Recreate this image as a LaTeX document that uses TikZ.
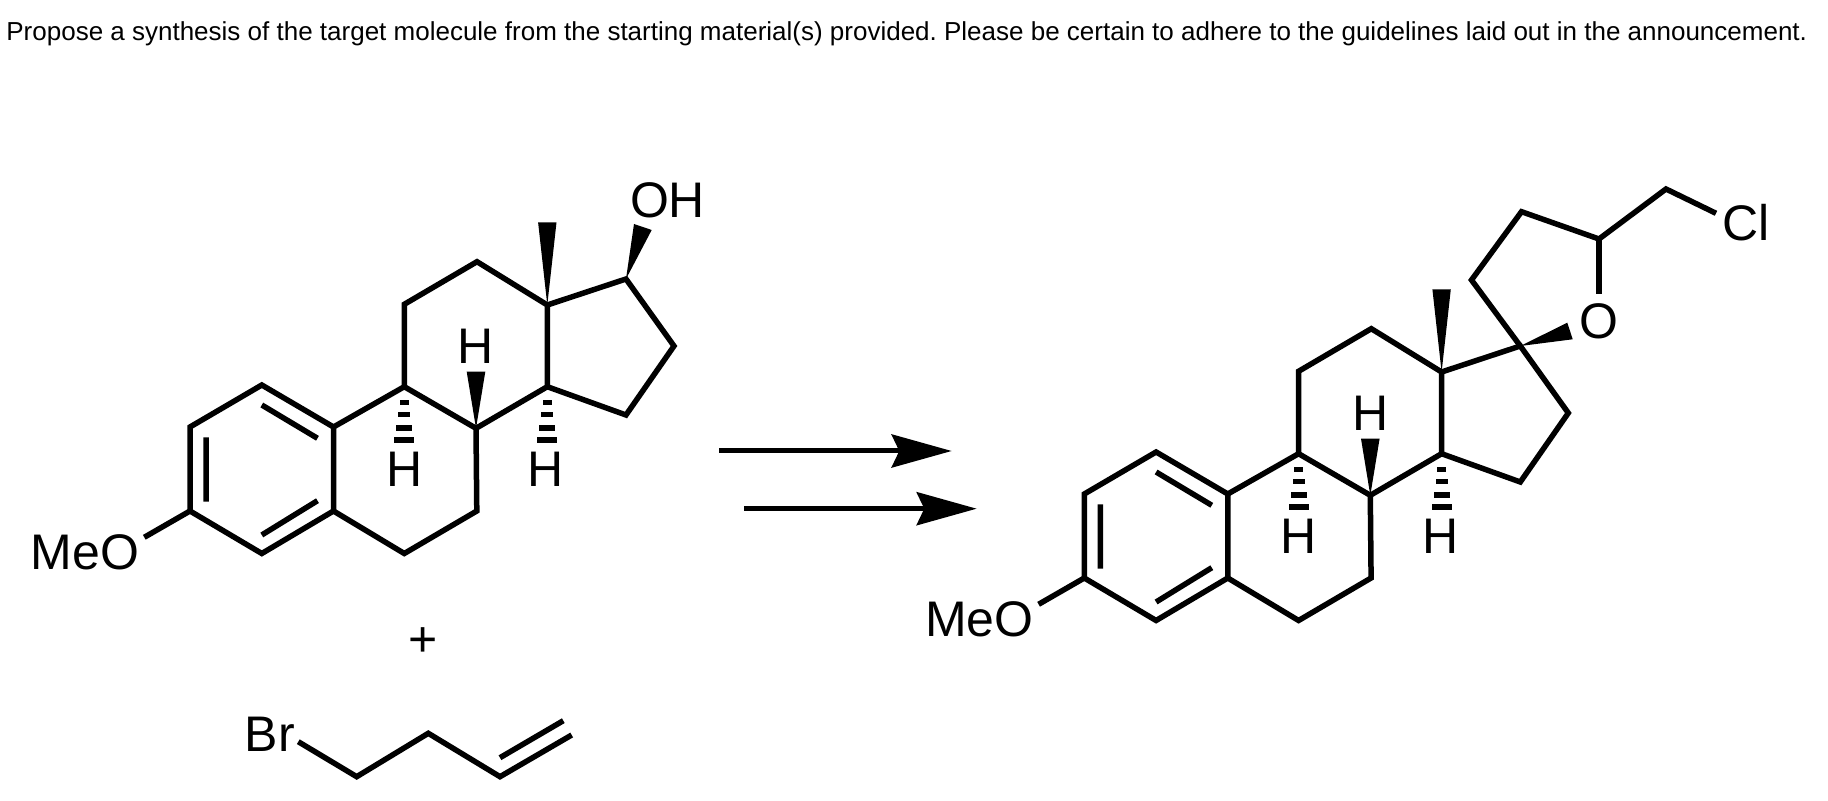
\documentclass[tikz,border=0pt]{standalone}
\usepackage{fontspec}
\setmainfont{Liberation Sans}
\usetikzlibrary{arrows.meta}

\tikzset{
  bondline/.style={line width=2.75pt,line join=miter},
  wedgefill/.style={fill=black},
  atomlabel/.style={inner sep=0,anchor=base,font=\fontsize{25}{29}\selectfont},
  titlelabel/.style={inner sep=0,anchor=base west,font=\fontsize{13}{15}\selectfont\frenchspacing},
  rxnarrow/.style={line width=2.5pt,-{Stealth[length=30pt,width=16.5pt,inset=3.8pt]}}
}

% steroid skeleton, #1 is the name prefix
\newcommand{\steroidcore}[1]{
  \foreach \name/\px/\py in {a1/190/427,a2/261.8/385,a3/333.5/427,a4/333.5/511,a5/261.8/553.5,a6/190/511,
      b1/404.3/386.7,b2/476/428.3,b3/476.8/511,b4/404.3/553.5,
      c1/404.3/304.3,c2/477/261.7,c3/547.3/305,c4/547.3/386.7,
      d1/626/279,d2/674/346,d3/626/415,
      i1/261.8/405,i2/317.5/438.3,i3/317.5/500.7,i4/261.8/535,i5/206/437.3,i6/206/501.7,
      oe/144.3/537.3,me/547.3/222.3,h1/404.7/486.7,h2/476/363.3,h3/546/486.7,w2/476/371.7,mo/85/569.5}
    \coordinate (#1\name) at (\px,\py);

  \draw[bondline] (#1a6) -- (#1a1) -- (#1a2) -- (#1a3) -- (#1a4) -- (#1a5) -- (#1a6) -- cycle;
  \draw[bondline] (#1a3) -- (#1b1) -- (#1b2) -- (#1b3) -- (#1b4) -- (#1a4);
  \draw[bondline] (#1b1) -- (#1c1) -- (#1c2) -- (#1c3) -- (#1c4) -- (#1b2);
  \draw[bondline] (#1c3) -- (#1d1) -- (#1d2) -- (#1d3) -- (#1c4);
  \draw[bondline] (#1i1) -- (#1i2) (#1i3) -- (#1i4) (#1i5) -- (#1i6);
  \draw[bondline] (#1a6) -- (#1oe);

  % methyl and H wedges
  \fill[wedgefill] (#1c3) -- ([shift={(-9.2,0)}]#1me) -- ([shift={(9.2,0)}]#1me) -- cycle;
  \fill[wedgefill] (#1b2) -- ([shift={(-9.3,0)}]#1w2) -- ([shift={(9.3,0)}]#1w2) -- cycle;

  % hashed bonds
  \foreach \at in {b1,c4}
    \foreach \dy/\hh/\hw in {13.3/5/4.2,25/5.7/6,38.3/5.7/8,50.6/6/10}
      \fill ([shift={(-\hw,\dy)}]#1\at) rectangle ([shift={(\hw,\dy+\hh)}]#1\at);

  \node[atomlabel] (#1hleft) at (#1h1) {H};
  \node[atomlabel] (#1hmid) at (#1h2) {H};
  \node[atomlabel] (#1hright) at (#1h3) {H};
  \node[atomlabel] (#1meo) at (#1mo) {MeO};
}

\begin{document}
\begin{tikzpicture}[x=0.5pt,y=-0.5pt]
  \useasboundingbox (0,0) rectangle (1828,801);

  \node[titlelabel] (question) at (6,40.7) {Propose a synthesis of the target molecule from the starting material(s) provided. Please be certain to adhere to the guidelines laid out in the announcement.};

  % starting material
  \steroidcore{L}
  \coordinate (Lwa) at (634,224);
  \coordinate (Lwb) at (651.7,230);
  \fill[wedgefill] (Ld1) -- (Lwa) -- (Lwb) -- cycle;
  \node[atomlabel] (oh) at (667.5,217.3) {OH};

  \node[atomlabel] (plus) at (423.3,657) {+};

  % bromide
  \node[atomlabel] (br) at (269.7,751.7) {Br};
  \coordinate (bra) at (298.3,741.7);
  \coordinate (brb) at (356.7,776.7);
  \coordinate (brc) at (428.3,733.3);
  \coordinate (brd) at (500,776.7);
  \coordinate (bre) at (571.7,735);
  \coordinate (brf) at (500,757.7);
  \coordinate (brg) at (563.3,720.7);
  \draw[bondline] (bra) -- (brb) -- (brc) -- (brd) -- (bre);
  \draw[bondline] (brf) -- (brg);

  % arrows
  \coordinate (topa) at (719.3,451);
  \coordinate (topb) at (951.7,451);
  \coordinate (lowa) at (744,508.7);
  \coordinate (lowb) at (976.7,508.7);
  \draw[rxnarrow] (topa) -- (topb);
  \draw[rxnarrow] (lowa) -- (lowb);

  % product
  \begin{scope}[shift={(894.3,67)}]
    \steroidcore{R}
  \end{scope}
  \coordinate (fa) at (1471.5,280);
  \coordinate (fb) at (1521.5,211.7);
  \coordinate (fc) at (1599,239);
  \coordinate (fd) at (1666,189);
  \coordinate (fe) at (1716,213.3);
  \coordinate (ff) at (1599,294.3);
  \coordinate (owa) at (1567.3,322.7);
  \coordinate (owb) at (1572.7,339.3);
  \draw[bondline] (Rd1) -- (fa) -- (fb) -- (fc) -- (fd) -- (fe);
  \draw[bondline] (fc) -- (ff);
  \fill[wedgefill] (Rd1) -- (owa) -- (owb) -- cycle;
  \node[atomlabel] (oxy) at (1598.5,338.5) {O};
  \node[atomlabel,anchor=base west] (cl) at (1722,241) {Cl};
\end{tikzpicture}
\end{document}
